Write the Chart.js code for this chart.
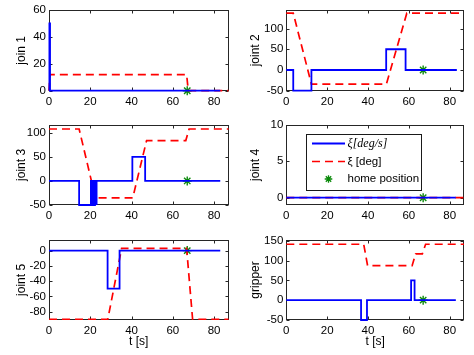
<!DOCTYPE html>
<html><head><meta charset="utf-8">
<script src="https://cdn.jsdelivr.net/npm/chart.js@4"></script>
<style>
html,body{margin:0;padding:0;background:#fff;}
#wrap{position:relative;width:474px;height:355px;overflow:hidden;background:#fff;}
canvas{position:absolute;}
</style></head><body>
<div id="wrap">
<canvas id="c1" width="237" height="115" style="left:0px;top:0px"></canvas>
<canvas id="c2" width="237" height="115" style="left:237px;top:0px"></canvas>
<canvas id="c3" width="237" height="115" style="left:0px;top:115px"></canvas>
<canvas id="c4" width="237" height="115" style="left:237px;top:115px"></canvas>
<canvas id="c5" width="237" height="125" style="left:0px;top:230px"></canvas>
<canvas id="c6" width="237" height="125" style="left:237px;top:230px"></canvas>
</div>
<script>
// ---- data ----
const xTicks = [0, 20, 40, 60, 80];
const legendLabels = ['\u03BE\u0307[deg/s]', '\u03BE [deg]', 'home position'];
const homeT = [67];
const homeV = [0];

const j1VelT = [0, 0.2, 0.2, 0.5, 0.5, 83];
const j1VelV = [0, 0, 50, 50, 0, 0];
const j1PosT = [0, 0.5, 66.7, 67.5, 87];
const j1PosV = [0, 12, 12, 0, 0];
const j1Ticks = [0, 20, 40, 60];

const j2VelT = [0, 3.4, 3.4, 12.3, 12.3, 48.9, 48.9, 58.4, 58.4, 83.5];
const j2VelV = [0, 0, -50, -50, 0, 0, 50, 50, 0, 0];
const j2PosT = [0, 3.4, 12.3, 49, 59, 87];
const j2PosV = [137, 137, -34, -34, 137, 137];
const j2Ticks = [-50, 0, 50, 100];

const j3VelT = [0, 14.6, 14.6, 20.3, 20.3, 20.8, 20.8, 21.3, 21.3, 21.8, 21.8, 22.3, 22.3, 22.8, 22.8, 23.2, 23.2, 40.4, 40.4, 46.6, 46.6, 83];
const j3VelV = [0, 0, -50, -50, 0, 0, -50, -50, 0, 0, -50, -50, 0, 0, -50, -50, 0, 0, 50, 50, 0, 0];
const j3PosT = [0, 14.6, 22.5, 40.6, 47.3, 66.3, 67.9, 87];
const j3PosV = [108, 108, -35, -35, 84, 84, 108, 108];
const j3Ticks = [-50, 0, 50, 100];

const j4VelT = [0, 83];
const j4VelV = [0, 0];
const j4PosT = [0, 87];
const j4PosV = [0, 0];
const j4Ticks = [0, 5, 10];

const j5VelT = [0, 28.4, 28.4, 34.2, 34.2, 83];
const j5VelV = [0, 0, -50, -50, 0, 0];
const j5PosT = [0, 28.5, 35.2, 66.7, 69.6, 87];
const j5PosV = [-90, -90, 3, 3, -90, -90];
const j5Ticks = [-80, -60, -40, -20, 0];

const gVelT = [0, 36.6, 36.6, 39.5, 39.5, 61.1, 61.1, 62.8, 62.8, 83];
const gVelV = [0, 0, -50, -50, 0, 0, 50, 50, 0, 0];
const gPosT = [0, 37.9, 39.8, 61.6, 63.3, 66.6, 68.2, 87];
const gPosV = [141, 141, 87, 87, 117, 117, 141, 141];
const gTicks = [-50, 0, 50, 100, 150];

// ---- helpers ----
function pts(t, v) { return t.map((x, i) => ({x: x, y: v[i]})); }

const boxTicks = {
  id: 'boxTicks',
  beforeDatasetsDraw(chart) {
    const {ctx, chartArea: a, scales: {x, y}} = chart;
    ctx.save();
    ctx.strokeStyle = '#262626';
    ctx.lineWidth = 1;
    const l = Math.round(a.left) + 0.5, r = Math.round(a.right) - 0.5;
    const t = Math.round(a.top) + 0.5, b = Math.round(a.bottom) - 0.5;
    ctx.strokeRect(l, t, r - l, b - t);
    const L = 3;
    ctx.beginPath();
    x.ticks.forEach(tk => {
      const px = Math.round(x.getPixelForValue(tk.value)) + 0.5;
      ctx.moveTo(px, b); ctx.lineTo(px, b - L);
      ctx.moveTo(px, t); ctx.lineTo(px, t + L);
    });
    y.ticks.forEach(tk => {
      const py = Math.round(y.getPixelForValue(tk.value)) + 0.5;
      ctx.moveTo(l, py); ctx.lineTo(l + L, py);
      ctx.moveTo(r, py); ctx.lineTo(r - L, py);
    });
    ctx.stroke();
    ctx.restore();
  }
};

const boxLegend = {
  id: 'boxLegend',
  afterDatasetsDraw(chart) {
    const ctx = chart.ctx;
    const ds = chart.data.datasets;
    ctx.save();
    const bx = 69.5, by = 19.5, bw = 115, bh = 56;
    ctx.fillStyle = '#fff';
    ctx.fillRect(bx, by, bw, bh);
    ctx.strokeStyle = '#1a1a1a';
    ctx.lineWidth = 1;
    ctx.strokeRect(bx, by, bw, bh);
    const rows = [28.5, 46.5, 64];
    const x0 = 75, x1 = 108, tx = 110.5;
    ctx.strokeStyle = ds[0].borderColor; ctx.lineWidth = ds[0].borderWidth; ctx.setLineDash([]);
    ctx.beginPath(); ctx.moveTo(x0, rows[0]); ctx.lineTo(x1, rows[0]); ctx.stroke();
    ctx.strokeStyle = ds[1].borderColor; ctx.lineWidth = ds[1].borderWidth; ctx.setLineDash(ds[1].borderDash);
    ctx.beginPath(); ctx.moveTo(x0, rows[1]); ctx.lineTo(x1, rows[1]); ctx.stroke();
    ctx.setLineDash([]);
    const cx = (x0 + x1) / 2, cy = rows[2], R = 3.8;
    ctx.strokeStyle = ds[2].borderColor; ctx.lineWidth = 1.3;
    ctx.beginPath();
    for (let k = 0; k < 4; k++) {
      const ang = k * Math.PI / 4;
      ctx.moveTo(cx - R * Math.cos(ang), cy - R * Math.sin(ang));
      ctx.lineTo(cx + R * Math.cos(ang), cy + R * Math.sin(ang));
    }
    ctx.stroke();
    ctx.fillStyle = '#000';
    ctx.textBaseline = 'middle';
    ctx.font = 'italic 12px "Liberation Serif"';
    ctx.fillText(ds[0].label, tx, rows[0]);
    ctx.font = '11.5px "Liberation Sans"';
    ctx.fillText(ds[1].label, tx, rows[1]);
    ctx.fillText(ds[2].label, tx, rows[2]);
    ctx.restore();
  }
};

function makeChart(id, o) {
  const left = o.col === 0;
  const plugins = [boxTicks];
  if (o.legend) plugins.push(boxLegend);
  return new Chart(document.getElementById(id), {
    type: 'line',
    data: {
      datasets: [
        {label: legendLabels[0], data: pts(o.velT, o.velV), borderColor: '#0000ff', borderWidth: 1.8,
         pointRadius: 0, fill: false, tension: 0, clip: 3},
        {label: legendLabels[1], data: pts(o.posT, o.posV), borderColor: '#ff0000', borderWidth: 1.7,
         borderDash: [8, 5], pointRadius: 0, fill: false, tension: 0, clip: 3},
        {label: legendLabels[2], data: pts(homeT, homeV), showLine: false, pointStyle: 'star',
         pointRadius: 4.5, borderColor: '#0a8a0a', backgroundColor: '#0a8a0a', borderWidth: 1.4, clip: false}
      ]
    },
    options: {
      responsive: false, animation: false, devicePixelRatio: 1,
      layout: {padding: {left: 0, right: left ? 8.5 : 10, top: o.padT, bottom: 0}},
      plugins: {legend: {display: false}, tooltip: {enabled: false}},
      scales: {
        x: {
          type: 'linear', min: 0, max: 87,
          afterBuildTicks: s => { s.ticks = xTicks.map(v => ({value: v})); },
          afterFit: s => { s.height = o.xH; },
          grid: {display: false, drawTicks: false}, border: {display: false},
          ticks: {color: '#000', font: {family: 'Liberation Sans', size: 11.5}, padding: 4, maxRotation: 0, autoSkip: false},
          title: {display: !!o.xTitle, text: o.xTitle || '', color: '#000',
                  font: {family: 'Liberation Sans', size: 12}, padding: {top: 0, bottom: 5.8}}
        },
        y: {
          type: 'linear', min: o.yMin, max: o.yMax,
          afterBuildTicks: s => { s.ticks = o.yTicks.map(v => ({value: v})); },
          afterFit: s => { s.width = left ? 49 : 49.3; },
          grid: {display: false, drawTicks: false}, border: {display: false},
          ticks: {color: '#000', font: {family: 'Liberation Sans', size: 11.5}, padding: 3, autoSkip: false},
          title: {display: true, text: o.yTitle, color: '#000',
                  font: {family: 'Liberation Sans', size: 12}, padding: {top: left ? 14.5 : 11.5, bottom: 0}}
        }
      }
    },
    plugins: plugins
  });
}

makeChart('c1', {col: 0, padT: 9.3, xH: 24.3, yMin: 0, yMax: 60, yTicks: j1Ticks, yTitle: 'join 1',
  velT: j1VelT, velV: j1VelV, posT: j1PosT, posV: j1PosV});
makeChart('c2', {col: 1, padT: 9.3, xH: 24.3, yMin: -50, yMax: 145, yTicks: j2Ticks, yTitle: 'joint 2',
  velT: j2VelT, velV: j2VelV, posT: j2PosT, posV: j2PosV});
makeChart('c3', {col: 0, padT: 9.3, xH: 25, yMin: -50, yMax: 116.5, yTicks: j3Ticks, yTitle: 'joint 3',
  velT: j3VelT, velV: j3VelV, posT: j3PosT, posV: j3PosV});
makeChart('c4', {col: 1, padT: 9.3, xH: 25, yMin: -1, yMax: 10, yTicks: j4Ticks, yTitle: 'joint 4', legend: true,
  velT: j4VelT, velV: j4VelV, posT: j4PosT, posV: j4PosV});
makeChart('c5', {col: 0, padT: 7.3, xH: 35, yMin: -91, yMax: 14, yTicks: j5Ticks, yTitle: 'joint 5', xTitle: 't [s]',
  velT: j5VelT, velV: j5VelV, posT: j5PosT, posV: j5PosV});
makeChart('c6', {col: 1, padT: 7.3, xH: 35, yMin: -50, yMax: 152, yTicks: gTicks, yTitle: 'gripper', xTitle: 't [s]',
  velT: gVelT, velV: gVelV, posT: gPosT, posV: gPosV});
</script>
</body></html>
